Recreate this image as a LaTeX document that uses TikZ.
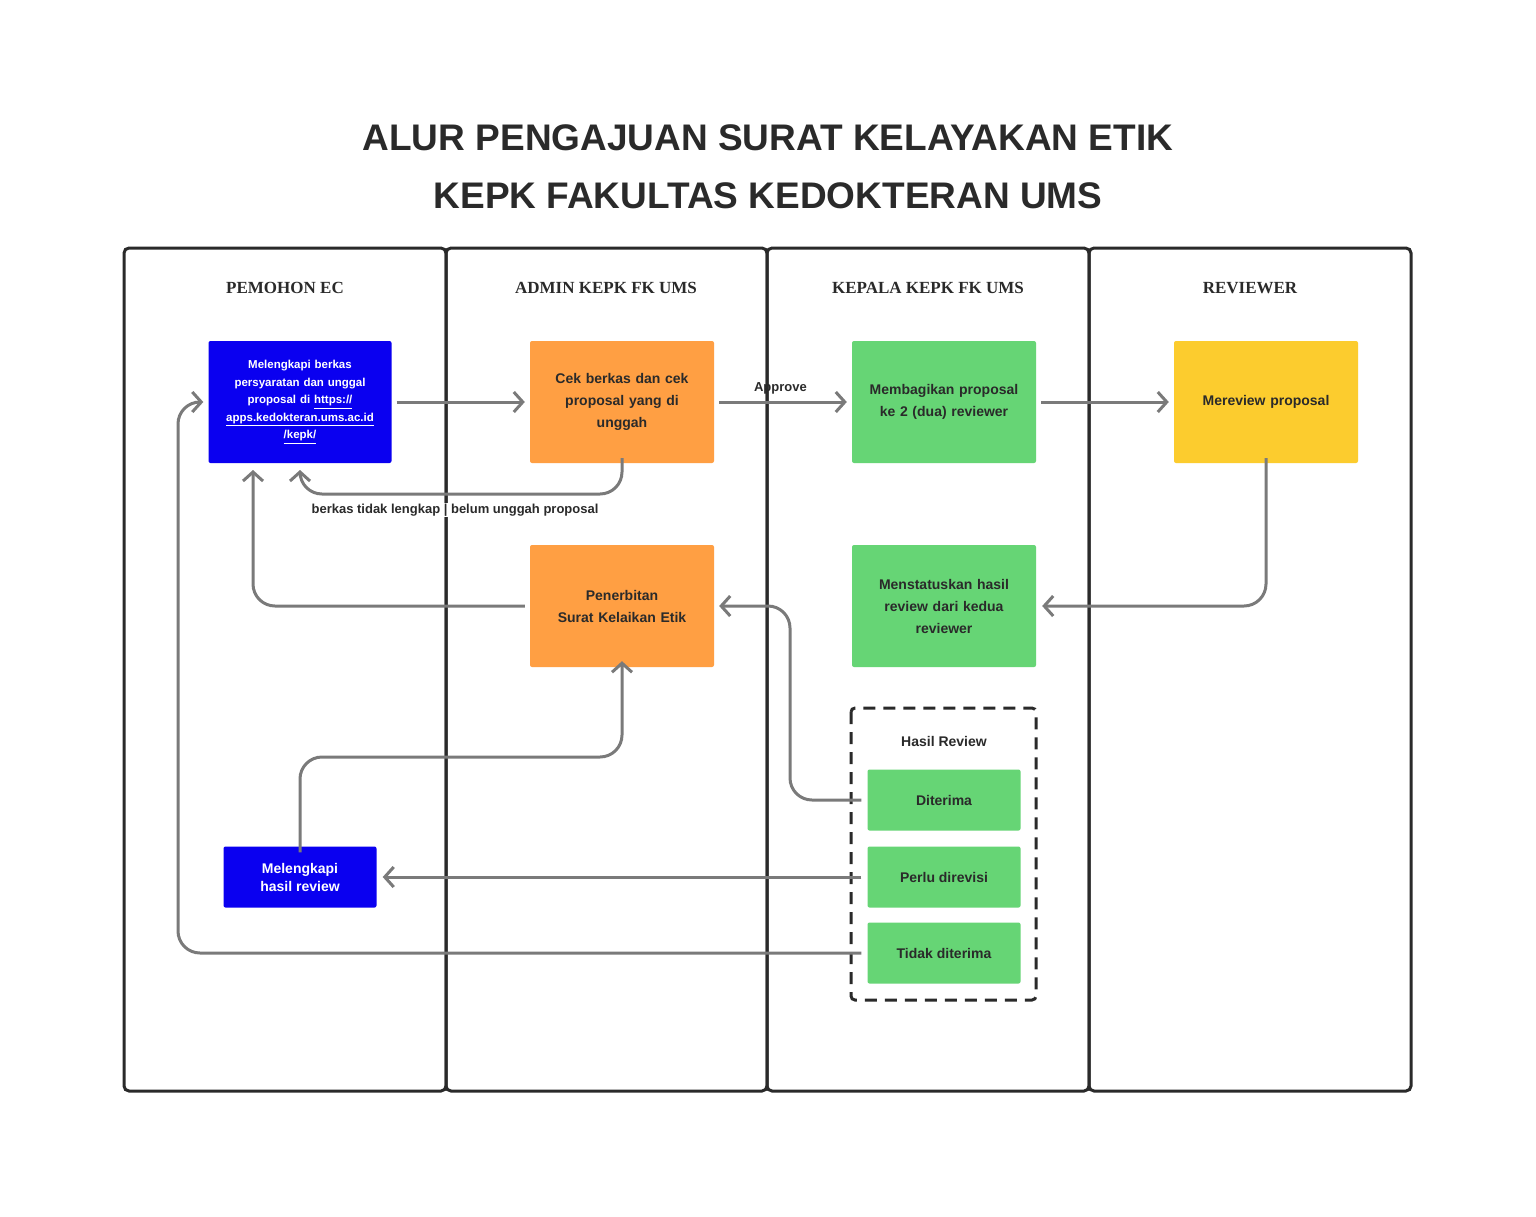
\documentclass[tikz,border=0pt]{standalone}
\usepackage{fontspec}
\setmainfont{Liberation Sans}
\newfontfamily\hdrfont{Liberation Serif}
\usetikzlibrary{arrows.meta}
\definecolor{cblue}{HTML}{0A00F0}
\definecolor{corange}{HTML}{FF9F43}
\definecolor{cgreen}{HTML}{66D575}
\definecolor{cyellow}{HTML}{FCCC2E}
\definecolor{cgray}{HTML}{7A7A7A}
\definecolor{ctxt}{HTML}{2A2A2A}
\begin{document}
\begin{tikzpicture}[x=1pt,y=-1pt,
  lane/.style={draw=ctxt,line width=3pt,rounded corners=5pt},
  hdr/.style={font=\hdrfont\bfseries\fontsize{17}{20}\selectfont,text=ctxt},
  box/.style={minimum width=184pt,minimum height=122pt,rounded corners=2pt,align=center,inner sep=2pt,text width=170pt,font=\bfseries\fontsize{14}{22}\selectfont,text=ctxt},
  sbox/.style={fill=cgreen,minimum width=153pt,minimum height=61pt,rounded corners=2pt,align=center,font=\bfseries\fontsize{14}{18}\selectfont,text=ctxt},
  arr/.style={draw=cgray,line width=3pt,rounded corners=22pt,-{Straight Barb[length=9pt,width=20pt,line width=3pt]}},
  lbl/.style={font=\bfseries\fontsize{13}{16}\selectfont,text=ctxt}]
\useasboundingbox (0,0) rectangle (1536,1216);
\fill[white] (0,0) rectangle (1536,1216);
\node[font=\bfseries\fontsize{37}{44}\selectfont,text=ctxt] (t1) at (768,138) {ALUR PENGAJUAN SURAT KELAYAKAN ETIK};
\node[font=\bfseries\fontsize{37}{44}\selectfont,text=ctxt] (t2) at (768,196) {KEPK FAKULTAS KEDOKTERAN UMS};
\draw[lane] (124,248) rectangle (446,1091);
\draw[lane] (446,248) rectangle (767,1091);
\draw[lane] (767,248) rectangle (1089,1091);
\draw[lane] (1089,248) rectangle (1411,1091);
\node[hdr] (h1) at (285,288) {PEMOHON EC};
\node[hdr] (h2) at (606,288) {ADMIN KEPK FK UMS};
\node[hdr] (h3) at (928,288) {KEPALA KEPK FK UMS};
\node[hdr] (h4) at (1250,288) {REVIEWER};
\node[box,fill=cblue,text=white,font=\bfseries\fontsize{11.5}{17.5}\selectfont,minimum width=183pt] (n1) at (300,402) {Melengkapi berkas\\persyaratan dan unggal\\proposal di \underline{https://}\\\underline{apps.kedokteran.ums.ac.id}\\\underline{/kepk/}};
\node[box,fill=corange] (n2) at (622,402) {Cek berkas dan cek\\proposal yang di\\unggah};
\node[box,fill=cgreen] (n3) at (944,402) {Membagikan proposal\\ke 2 (dua) reviewer};
\node[box,fill=cyellow] (n4) at (1266,402) {Mereview proposal};
\node[box,fill=corange] (n5) at (622,606) {Penerbitan\\Surat Kelaikan Etik};
\node[box,fill=cgreen] (n6) at (944,606) {Menstatuskan hasil\\review dari kedua\\reviewer};
\draw[ctxt,line width=3pt,dash pattern=on 12pt off 8pt,rounded corners=4pt] (851,708) rectangle (1036,1000);
\node[font=\bfseries\fontsize{14}{18}\selectfont,text=ctxt] (hr) at (944,741) {Hasil Review};
\node[sbox] (d1) at (944,800) {Diterima};
\node[sbox] (d2) at (944,877) {Perlu direvisi};
\node[sbox] (d3) at (944,953) {Tidak diterima};
\node[sbox,fill=cblue,text=white] (n7) at (300,877) {Melengkapi\\hasil review};
\coordinate (n1b) at (300,470);
\coordinate (n1c) at (253,470);
\draw[arr] ([xshift=5pt]n1.east) -- ([xshift=-5pt]n2.west);
\draw[arr] ([xshift=5pt]n2.east) -- ([xshift=-5pt]n3.west) node[lbl,pos=0.48,above=3pt] (ap) {Approve};
\draw[arr] ([xshift=5pt]n3.east) -- ([xshift=-5pt]n4.west);
\draw[arr] ([yshift=5pt]n4.south) -- (1266,606) -- ([xshift=6pt]n6.east);
\draw[arr] ([yshift=5pt]n2.south) -- (622,494) -- (300,494) -- (n1b);
\node[lbl,fill=white,inner sep=1pt] (bl) at (455,510) {berkas tidak lengkap | belum unggah proposal};
\draw[arr] ([xshift=-5pt]n5.west) -- (253,606) -- (n1c);
\draw[arr] ([xshift=-6pt]d1.west) -- (790,800) -- (790,606) -- ([xshift=5pt]n5.east);
\draw[arr] ([yshift=-6pt]n7.north) -- (300,757) -- (622,757) -- ([yshift=6pt]n5.south);
\draw[arr] ([xshift=-6pt]d2.west) -- ([xshift=6pt]n7.east);
\draw[arr] ([xshift=-6pt]d3.west) -- (178,953) -- (178,402) -- ([xshift=-5pt]n1.west);
\end{tikzpicture}
\end{document}
